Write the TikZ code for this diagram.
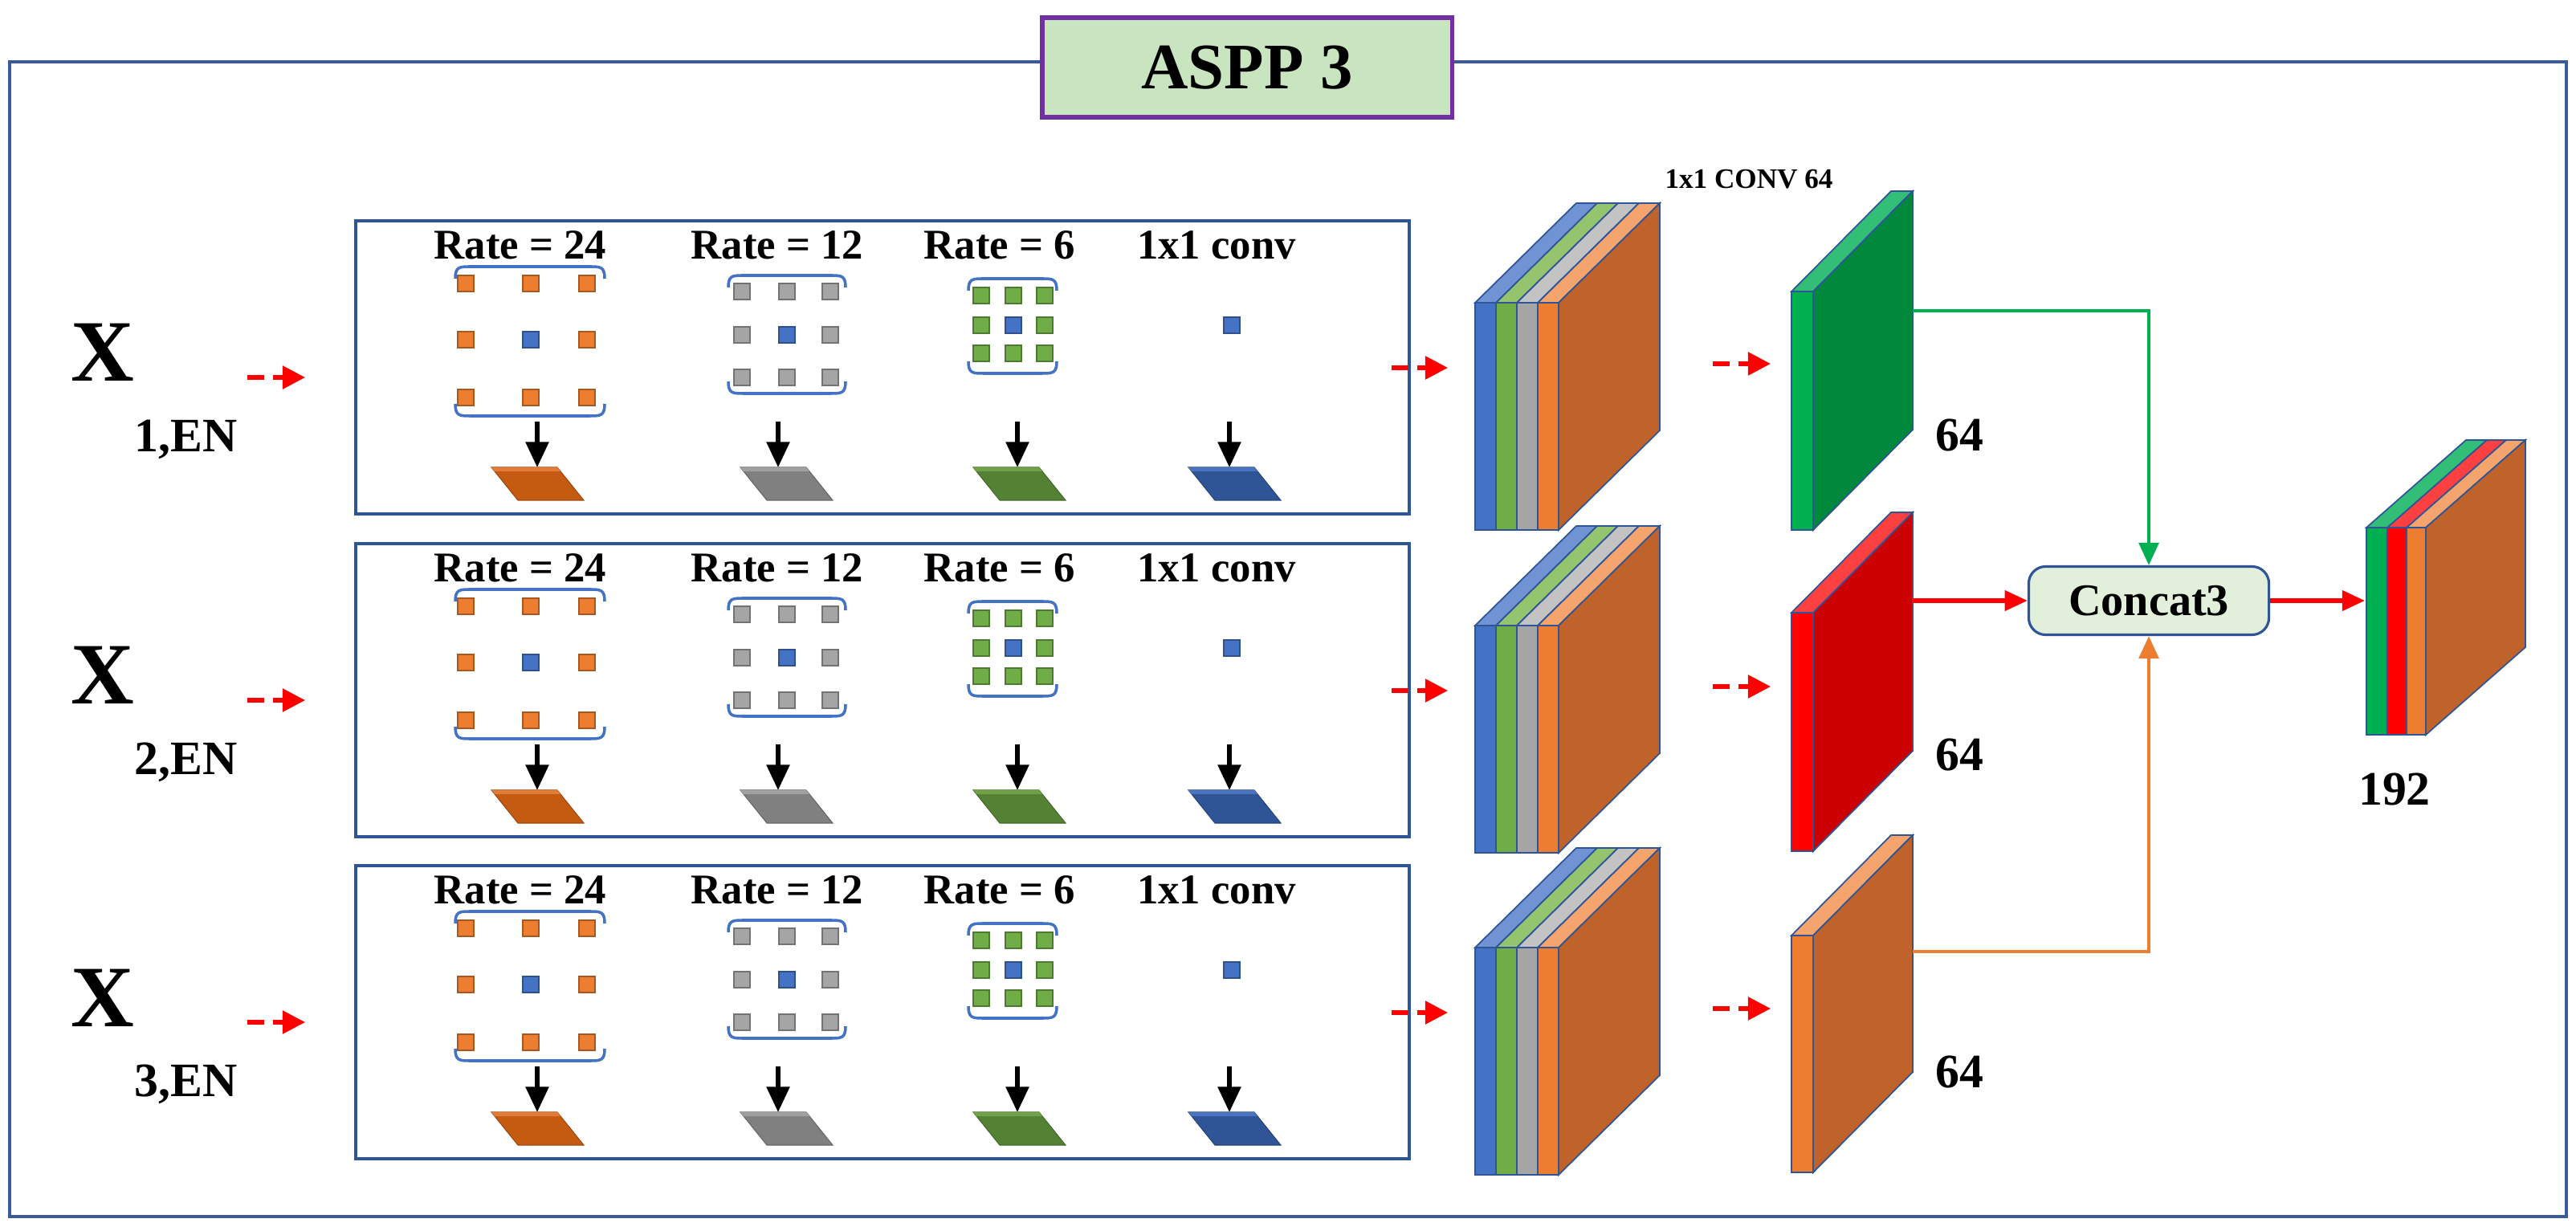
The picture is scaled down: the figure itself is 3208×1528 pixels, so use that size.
\documentclass[tikz,border=0pt]{standalone}
\usepackage{fontspec}
\setmainfont{Liberation Serif}
\usetikzlibrary{arrows.meta}
\definecolor{frameblue}{HTML}{3A5A9C}
\definecolor{edgeblue}{HTML}{2F5597}
\definecolor{cblue}{HTML}{4472C4}
\definecolor{cbluet}{HTML}{6F93D3}
\definecolor{cgreen}{HTML}{70AD47}
\definecolor{cgreent}{HTML}{94C46E}
\definecolor{cgray}{HTML}{A5A5A5}
\definecolor{cgrayt}{HTML}{C3C3C3}
\definecolor{corange}{HTML}{ED7D31}
\definecolor{coranget}{HTML}{F4A46C}
\definecolor{cside}{HTML}{C0632A}
\definecolor{gfront}{HTML}{00B050}
\definecolor{gtop}{HTML}{33BE78}
\definecolor{gside}{HTML}{00893D}
\definecolor{rfront}{HTML}{FF0000}
\definecolor{rtop}{HTML}{FF4040}
\definecolor{rside}{HTML}{CC0000}
\definecolor{titlefill}{HTML}{C9E5C0}
\definecolor{titleedge}{HTML}{7030A0}
\definecolor{concatfill}{HTML}{E2EFDA}
\definecolor{pgorange}{HTML}{C55A11}
\definecolor{pgorangel}{HTML}{E07B3A}
\definecolor{pggray}{HTML}{808080}
\definecolor{pggrayl}{HTML}{A0A0A0}
\definecolor{pggreen}{HTML}{548235}
\definecolor{pggreenl}{HTML}{70A048}
\definecolor{pgblue}{HTML}{2F5597}
\definecolor{pgbluel}{HTML}{4A74C0}
\tikzset{
  frame/.style={draw=frameblue,line width=1.2pt},
  rowbox/.style={draw=edgeblue,line width=1.3pt},
  lbl/.style={font=\bfseries\fontsize{15}{17}\selectfont,inner sep=0pt},
  num/.style={font=\bfseries\fontsize{17}{19}\selectfont,inner sep=0pt},
  dasharrow/.style={draw=red,line width=1.5pt,dash pattern=on 6pt off 3pt,-{Triangle[length=8pt,width=8pt]}},
  downarrow/.style={draw=black,line width=1.5pt,-{Triangle[length=9pt,width=8pt]}},
  brk/.style={draw=cblue,line width=1pt},
  sq/.style={line width=0.3pt},
}
\newcommand\mylayer[8]{%
  \filldraw[fill=#7,draw=edgeblue,line width=0.5pt] (#1,#2) rectangle ++(#3,#4);
  \filldraw[fill=#8,draw=edgeblue,line width=0.5pt] (#1,#2) -- ++(#5,-#6) -- ++(#3,0) -- ++(-#5,#6) -- cycle;}
\newcommand\myside[6]{%
  \filldraw[fill=#6,draw=edgeblue,line width=0.5pt] (#1,#2) -- ++(#4,-#5) -- ++(0,#3) -- ++(-#4,#5) -- cycle;}
\newcommand\mypg[4]{%
  \filldraw[fill=#3,draw=#3!80!black,line width=0.3pt] (#1,#2) -- ++(82,0) -- ++(33,41) -- ++(-82,0) -- cycle;
  \fill[#4] (#1,#2) -- ++(82,0) -- ++(4,5) -- ++(-82,0) -- cycle;}
\newcommand\mysq[3]{\filldraw[sq,fill=#3,draw=#3!70!black] (#1-10,#2-10) rectangle (#1+10,#2+10);}
\newcommand\mybrk[4]{%
  \draw[brk] (#1,#3+15) .. controls (#1,#3) and (#1+5,#3) .. (#1+20,#3) -- (#2-20,#3) .. controls (#2-5,#3) and (#2,#3) .. (#2,#3+15);
  \draw[brk] (#1,#4-15) .. controls (#1,#4) and (#1+5,#4) .. (#1+20,#4) -- (#2-20,#4) .. controls (#2-5,#4) and (#2,#4) .. (#2,#4-15);}
\begin{document}
\begin{tikzpicture}[x=0.01cm,y=-0.01cm]
\useasboundingbox (0,0) rectangle (3208,1528);
\fill[white] (0,0) rectangle (3208,1528);
\draw[frame] (12,77) rectangle (3196,1515);
\node[draw=titleedge,line width=1.5pt,fill=titlefill,minimum width=5.1cm,minimum height=1.24cm,font=\bfseries\fontsize{23}{25}\selectfont] (title) at (1553,84) {ASPP 3};
\node[font=\bfseries\fontsize{10}{12}\selectfont,inner sep=0pt] (convlbl) at (2178,223) {1x1 CONV 64};

\foreach \r/\oy in {1/0,2/402,3/803}{
\begin{scope}[shift={(0,\oy)}]
  \draw[rowbox] (443,275) rectangle (1755,640);
  \node[inner sep=0pt,anchor=base west] (x\r) at (88,475) {\bfseries\fontsize{31}{33}\selectfont X\raisebox{-0.8em}{\fontsize{17}{19}\selectfont \r,EN}};
  \coordinate (xa\r) at (308,470); \coordinate (xb\r) at (380,470);
  \draw[dasharrow] (xa\r) -- (xb\r);
  \node[lbl] (t24\r) at (648,305) {Rate = 24};
  \node[lbl] (t12\r) at (968,305) {Rate = 12};
  \node[lbl] (t6\r) at (1245,305) {Rate = 6};
  \node[lbl] (t1\r) at (1515,305) {1x1 conv};
  \foreach \xx in {580,661,731}{\foreach \yy in {353,423,495}{\mysq{\xx}{\yy}{corange}}}
  \mysq{661}{423}{cblue}
  \mybrk{567}{753}{332}{518}
  \foreach \xx in {924,980,1034}{\foreach \yy in {363,417,470}{\mysq{\xx}{\yy}{cgray}}}
  \mysq{980}{417}{cblue}
  \mybrk{907}{1053}{343}{490}
  \foreach \xx in {1222,1262,1301}{\foreach \yy in {368,405,440}{\mysq{\xx}{\yy}{cgreen}}}
  \mysq{1262}{405}{cblue}
  \mybrk{1206}{1316}{347}{465}
  \mysq{1534}{405}{cblue}
  \foreach \xx/\n in {669/a,969/b,1267/c,1531/d}{
    \coordinate (da\n\r) at (\xx,525); \coordinate (db\n\r) at (\xx,582);
    \draw[downarrow] (da\n\r) -- (db\n\r);}
  \mypg{612}{582}{pgorange}{pgorangel}
  \mypg{922}{582}{pggray}{pggrayl}
  \mypg{1212}{582}{pggreen}{pggreenl}
  \mypg{1480}{582}{pgblue}{pgbluel}
  \coordinate (sa\r) at (1733,458); \coordinate (sb\r) at (1803,458);
  \draw[dasharrow] (sa\r) -- (sb\r);
  \mylayer{1837}{377}{26}{283}{126}{124}{cblue}{cbluet}
  \mylayer{1863}{377}{26}{283}{126}{124}{cgreen}{cgreent}
  \mylayer{1889}{377}{26}{283}{126}{124}{cgray}{cgrayt}
  \mylayer{1915}{377}{26}{283}{126}{124}{corange}{coranget}
  \myside{1941}{377}{283}{126}{124}{cside}
  \coordinate (ca\r) at (2133,453); \coordinate (cb\r) at (2205,453);
  \draw[dasharrow] (ca\r) -- (cb\r);
\end{scope}}

\mylayer{2231}{363}{27}{297}{124}{125}{gfront}{gtop}
\myside{2258}{363}{297}{124}{125}{gside}
\mylayer{2231}{763}{27}{297}{124}{125}{rfront}{rtop}
\myside{2258}{763}{297}{124}{125}{rside}
\mylayer{2231}{1165}{27}{295}{124}{125}{corange}{coranget}
\myside{2258}{1165}{295}{124}{125}{cside}
\node[num] (n1) at (2440,542) {64};
\node[num] (n2) at (2440,940) {64};
\node[num] (n3) at (2440,1335) {64};

\node[draw=edgeblue,line width=0.9pt,rounded corners=6pt,fill=concatfill,minimum width=2.99cm,minimum height=0.85cm,font=\bfseries\fontsize{16}{18}\selectfont] (cat) at (2676,748) {Concat3};
\coordinate (g0) at (2382,387);
\coordinate (r0) at (2382,748);
\coordinate (o0) at (2382,1185);
\draw[draw=gfront,line width=1.3pt,-{Triangle[length=8pt,width=7pt]}] (g0) -| (cat.north);
\draw[draw=red,line width=1.5pt,-{Triangle[length=8pt,width=7pt]}] (r0) -- (cat.west);
\draw[draw=corange,line width=1.3pt,-{Triangle[length=8pt,width=7pt]}] (o0) -| (cat.south);

\mylayer{2947}{657}{26}{258}{124}{109}{gfront}{gtop}
\mylayer{2973}{657}{24}{258}{124}{109}{rfront}{rtop}
\mylayer{2997}{657}{24}{258}{124}{109}{corange}{coranget}
\myside{3021}{657}{258}{124}{109}{cside}
\coordinate (outin) at (2945,748);
\draw[draw=red,line width=1.5pt,-{Triangle[length=8pt,width=7pt]}] (cat.east) -- (outin);
\node[num] (n192) at (2982,983) {192};
\end{tikzpicture}
\end{document}
